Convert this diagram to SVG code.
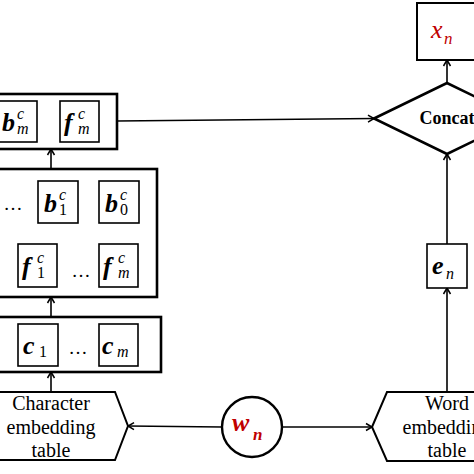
<svg xmlns="http://www.w3.org/2000/svg" width="474" height="474" viewBox="0 0 474 474">
<style>
  .bg{fill:#fff}
  .box{fill:#fff;stroke:#000;stroke-width:1.6}
  .cont{fill:#fff;stroke:#000;stroke-width:2.6}
  .hex{fill:#fff;stroke:#000;stroke-width:2}
  .conn{fill:none;stroke:#000;stroke-width:1.6}
  text{font-family:"Liberation Serif","Times New Roman",serif;fill:#000}
  .m{font-size:26px;font-weight:bold;font-style:italic}
  .si{font-size:16px;font-style:italic}
  .su{font-size:16px}
  .lbl{font-size:20px;text-anchor:middle}
  .cc{font-size:18px;font-weight:bold;text-anchor:middle}
  .dots{font-size:19px;text-anchor:middle}
  .red{fill:#C00000}
</style>
<defs>
  <marker id="arr" markerUnits="userSpaceOnUse" markerWidth="10" markerHeight="10" refX="8" refY="5" orient="auto">
    <path d="M2,1.5 L8,5 L2,8.5" fill="none" stroke="#000" stroke-width="1.5"/>
  </marker>
</defs>
<rect class="bg" x="0" y="0" width="474" height="474"/>

<g id="connectors">
  <line class="conn" x1="117" y1="121" x2="374" y2="118.5" marker-end="url(#arr)"/>
  <line class="conn" x1="51" y1="169" x2="51" y2="149" marker-end="url(#arr)"/>
  <line class="conn" x1="51" y1="317" x2="51" y2="297" marker-end="url(#arr)"/>
  <line class="conn" x1="51" y1="392" x2="51" y2="372" marker-end="url(#arr)"/>
  <line class="conn" x1="99" y1="202" x2="78" y2="202" marker-end="url(#arr)"/>
  <line class="conn" x1="38" y1="202" x2="24" y2="202" marker-end="url(#arr)"/>
  <line class="conn" x1="0" y1="266" x2="18" y2="266" marker-end="url(#arr)"/>
  <line class="conn" x1="57" y1="266" x2="71" y2="266" marker-end="url(#arr)"/>
  <line class="conn" x1="222" y1="427" x2="128" y2="426" marker-end="url(#arr)"/>
  <line class="conn" x1="282" y1="427" x2="372" y2="427" marker-end="url(#arr)"/>
  <line class="conn" x1="447" y1="392" x2="447" y2="288" marker-end="url(#arr)"/>
  <line class="conn" x1="447" y1="244" x2="447" y2="154" marker-end="url(#arr)"/>
  <line class="conn" x1="447" y1="83" x2="447" y2="60" marker-end="url(#arr)"/>
</g>

<g id="top-container">
  <rect class="cont" x="-10" y="94" width="127" height="55"/>
  <g id="bmc">
    <rect class="box" x="-3" y="101" width="40" height="41"/>
    <text class="m" x="2" y="131">b</text>
    <text class="si" x="17" y="119">c</text>
    <text class="si" x="17" y="134">m</text>
  </g>
  <g id="fmc-top">
    <rect class="box" x="60" y="101" width="39" height="41"/>
    <text class="m" x="64" y="131">f</text>
    <text class="si" x="78" y="119">c</text>
    <text class="si" x="78" y="134">m</text>
  </g>
</g>

<g id="mid-container">
  <rect class="cont" x="-10" y="169" width="167" height="128"/>
  <text class="dots" x="13" y="210">…</text>
  <text class="dots" x="81" y="277">…</text>
  <g id="b1c">
    <rect class="box" x="38" y="181" width="40" height="42"/>
    <text class="m" x="44" y="212">b</text>
    <text class="si" x="59" y="200">c</text>
    <text class="su" x="59" y="215">1</text>
  </g>
  <g id="b0c">
    <rect class="box" x="99" y="181" width="40" height="42"/>
    <text class="m" x="105" y="212">b</text>
    <text class="si" x="120" y="200">c</text>
    <text class="su" x="120" y="215">0</text>
  </g>
  <g id="f1c">
    <rect class="box" x="18" y="244" width="39" height="43"/>
    <text class="m" x="22" y="275">f</text>
    <text class="si" x="37" y="263">c</text>
    <text class="su" x="37" y="278">1</text>
  </g>
  <g id="fmc">
    <rect class="box" x="99" y="244" width="39" height="43"/>
    <text class="m" x="103" y="275">f</text>
    <text class="si" x="118" y="263">c</text>
    <text class="si" x="118" y="278">m</text>
  </g>
</g>

<g id="c-container">
  <rect class="cont" x="-10" y="317" width="171" height="55"/>
  <text class="dots" x="78" y="354">…</text>
  <g id="c1">
    <rect class="box" x="18" y="324" width="40" height="42"/>
    <text class="m" x="23" y="354">c</text>
    <text class="su" x="39" y="357">1</text>
  </g>
  <g id="cm">
    <rect class="box" x="99" y="324" width="39" height="42"/>
    <text class="m" x="102" y="354">c</text>
    <text class="si" x="117" y="357">m</text>
  </g>
</g>

<g id="char-table">
  <polygon class="hex" points="-28,426 -15,392 115,392 128,426 115,460 -15,460"/>
  <text class="lbl" x="51" y="410">Character</text>
  <text class="lbl" x="51" y="434">embedding</text>
  <text class="lbl" x="51" y="457">table</text>
</g>

<g id="wn">
  <circle cx="252" cy="427" r="30" fill="#fff" stroke="#000" stroke-width="2.4"/>
  <text class="m red" x="232" y="431">w</text>
  <text class="red" x="253" y="440" style="font-size:17px;font-weight:bold;font-style:italic">n</text>
</g>

<g id="word-table">
  <polygon class="hex" points="372,427 387,392 507,392 522,427 507,461 387,461"/>
  <text class="lbl" x="447" y="410">Word</text>
  <text class="lbl" x="447" y="434">embedding</text>
  <text class="lbl" x="447" y="457">table</text>
</g>

<g id="en">
  <rect class="box" x="427" y="244" width="40" height="44"/>
  <text class="m" x="432" y="274">e</text>
  <text class="si" x="446" y="279">n</text>
</g>

<g id="concat">
  <polygon points="374,118.5 447,83 520,118.5 447,154" fill="#fff" stroke="#000" stroke-width="2.6"/>
  <text class="cc" x="447" y="124">Concat</text>
</g>

<g id="xn">
  <rect x="417" y="3" width="60" height="57" fill="#fff" stroke="#000" stroke-width="2"/>
  <text class="red" x="431" y="38" style="font-size:26px;font-style:italic">x</text>
  <text class="red" x="444" y="44" style="font-size:17px;font-style:italic">n</text>
</g>
</svg>
